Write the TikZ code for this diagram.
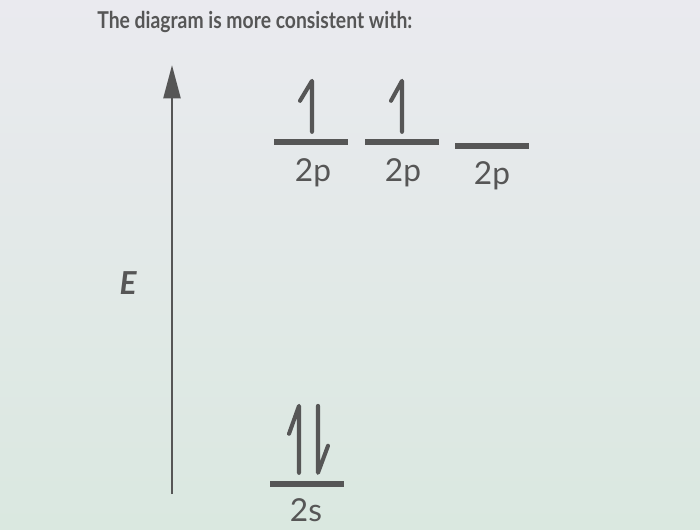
\documentclass[tikz,border=0pt]{standalone}
\usepackage{fontspec}
\setmainfont{Lato}
\usetikzlibrary{arrows.meta,positioning}
\definecolor{ink}{RGB}{86,86,86}
\definecolor{bgtop}{RGB}{234,234,239}
\definecolor{bgbot}{RGB}{218,232,224}

\begin{document}
\begin{tikzpicture}[x=0.02cm,y=-0.02cm,
  level/.style={fill=ink,minimum width=1.5cm,minimum height=3.2pt,inner sep=0pt},
  spin/.style={ink,line width=2.3pt,line cap=round,line join=round},
  lbl/.style={ink,font=\fontsize{18}{21}\selectfont,inner sep=0pt}]

\useasboundingbox[top color=bgtop,bottom color=bgbot] (0,0) rectangle (700,530);

% title and energy axis
\node[ink,font=\bfseries\fontsize{11}{13}\selectfont,anchor=west,inner sep=0pt] (title) at (97,22) {\scalebox{1}[1.2]{The diagram is more consistent with:}};
\coordinate (ebot) at (172,494);
\coordinate (etop) at (172,65);
\draw[ink,line width=1.6pt,-{Triangle[length=19pt,width=9.6pt]}] (ebot) -- (etop);
\node[ink,font=\bfseries\itshape\fontsize{18}{21}\selectfont,inner sep=0pt] (E) at (128,283) {E};

% 2p levels
\node[level] (p1) at (311,142) {};
\node[level] (p2) at (402,142) {};
\node[level] (p3) at (492,146) {};
\node[lbl] (p1l) at (313,173) {2p};
\node[lbl] (p2l) at (403,173) {2p};
\node[lbl] (p3l) at (492,176) {2p};

% 2s level
\node[level] (s1) at (307,484) {};
\node[lbl] (s1l) at (306,510) {2s};

% electrons
\draw[spin] (p1.north) ++(1,-7) -- ++(0,-51) -- ++(-12,20);
\draw[spin] (p2.north) ++(0,-7) -- ++(0,-51) -- ++(-11,20);
\draw[spin] (s1.north) ++(-8,-8) -- ++(0,-67) -- ++(-10,28);
\draw[spin] (s1.north) ++(11,-75) -- ++(0,67) -- ++(10,-27);

\end{tikzpicture}
\end{document}
